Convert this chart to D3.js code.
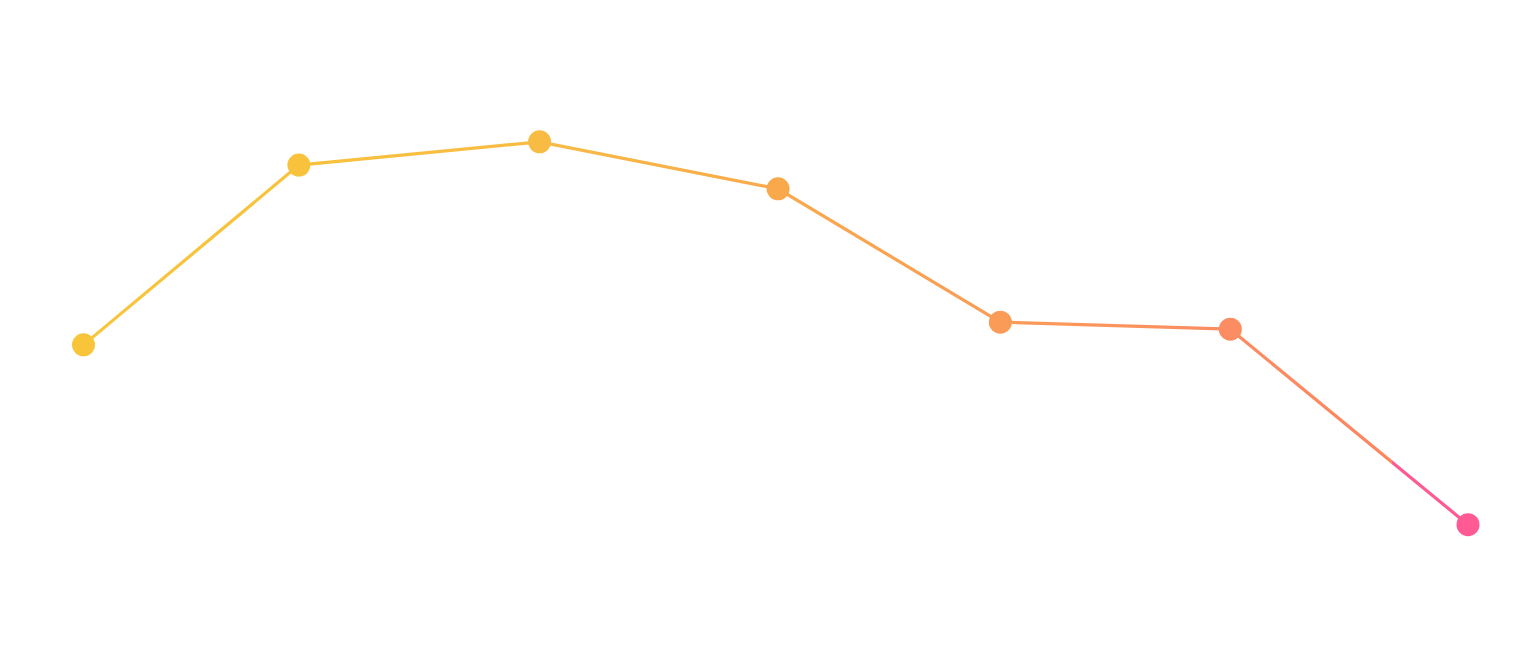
<!DOCTYPE html>
<html>
<head>
<meta charset="utf-8">
<script src="https://cdn.jsdelivr.net/npm/d3@7"></script>
<style>
  html, body { margin: 0; padding: 0; background: #fff; }
  svg { display: block; }
</style>
</head>
<body>
<div id="chart-container"></div>
<script>
// Data (x = day offset, y = value)
const days = [0, 28, 59.3, 90.3, 119.2, 149.1, 180];
const values = [49.1, 82.4, 86.7, 78.0, 53.3, 52.0, 15.8];
const pointColors = ['#f8c53a', '#f8c23c', '#f8bb44', '#f9a94c', '#fa9c57', '#fc8c62', '#ff5a93'];

const svgWidth = 1536;
const svgHeight = 658;

const svg = d3.select('#chart-container')
  .append('svg')
  .attr('width', svgWidth)
  .attr('height', svgHeight);

const xScale = d3.scaleLinear()
  .domain([0, 180])
  .range([83.5, 1468]);

const yScale = d3.scaleLinear()
  .domain([0, 100])
  .range([610, 70]);

const data = days.map((d, i) => ({ day: d, value: values[i], color: pointColors[i] }));

// Horizontal gradient along the line, hard switch to pink near the end
const grad = svg.append('defs')
  .append('linearGradient')
  .attr('id', 'line-gradient')
  .attr('gradientUnits', 'userSpaceOnUse')
  .attr('x1', xScale(0)).attr('y1', 0)
  .attr('x2', xScale(180)).attr('y2', 0);

const stops = data.slice(0, 6).map(d => ({ offset: d.day / 180, color: d.color }));
stops.push({ offset: 0.945, color: '#fd855f' });
stops.push({ offset: 0.945, color: '#ff5a93' });
stops.push({ offset: 1, color: '#ff5a93' });

grad.selectAll('stop')
  .data(stops)
  .enter()
  .append('stop')
  .attr('offset', d => d.offset)
  .attr('stop-color', d => d.color);

const line = d3.line()
  .x(d => xScale(d.day))
  .y(d => yScale(d.value));

svg.append('path')
  .datum(data)
  .attr('d', line)
  .attr('fill', 'none')
  .attr('stroke', 'url(#line-gradient)')
  .attr('stroke-width', 3.2);

svg.selectAll('circle')
  .data(data)
  .enter()
  .append('circle')
  .attr('cx', d => xScale(d.day))
  .attr('cy', d => yScale(d.value))
  .attr('r', 11.5)
  .attr('fill', d => d.color);
</script>
</body>
</html>
